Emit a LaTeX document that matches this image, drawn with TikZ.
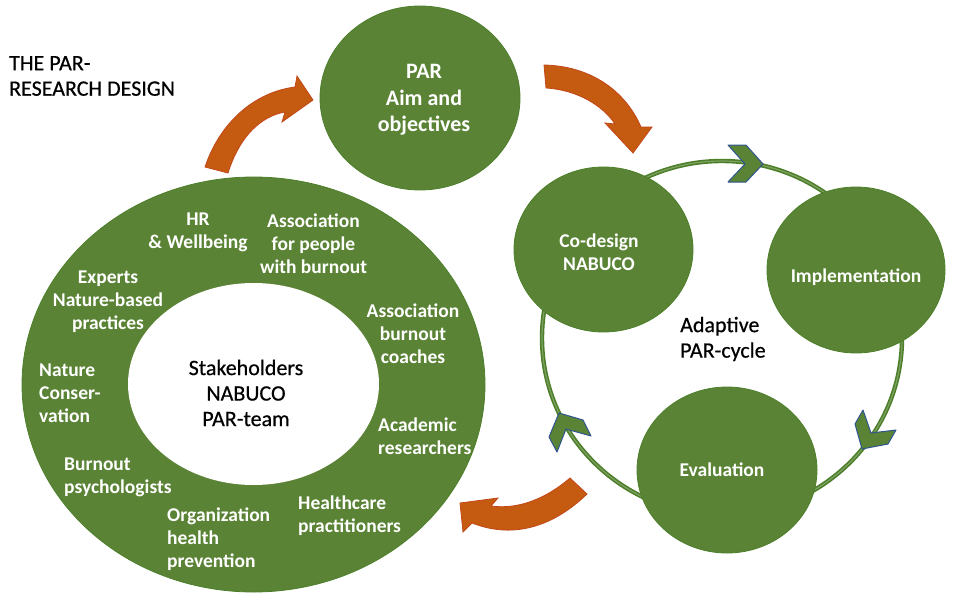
\documentclass[tikz,border=0pt]{standalone}
\usepackage{fontspec}
\usetikzlibrary{shapes.geometric}
\setmainfont{Carlito}
\newfontfamily\semibfont[FakeBold=0.5]{Carlito}
\definecolor{gfill}{HTML}{5A8335}
\definecolor{gline}{HTML}{4C7F2A}
\definecolor{gmid}{HTML}{7FA060}
\definecolor{orfill}{HTML}{C55A11}
\definecolor{orline}{HTML}{C2481A}
\definecolor{chline}{HTML}{2F5590}
\tikzset{
  blob/.style={ellipse,draw=gline,fill=gfill,line width=0.8pt,inner sep=0pt},
  bigarrow/.style={draw=orline,fill=orfill,line width=0.8pt,line join=miter},
  chev/.style={draw=chline,fill=gfill,line width=1pt,line join=round},
  lab/.style={text=white,font=\fontsize{19.5}{23}\selectfont\bfseries,align=center,inner sep=0pt},
  labbig/.style={text=white,font=\fontsize{22}{26.5}\selectfont\bfseries,align=center,inner sep=0pt},
  dark/.style={text=black,font=\semibfont\fontsize{22}{25.5}\selectfont,align=center,inner sep=0pt}
}
\begin{document}
\begin{tikzpicture}[x=1pt,y=-1pt]
\useasboundingbox (0,0) rectangle (957,602);
% big ring
\draw[gline,line width=4.4pt] (722,338) ellipse [x radius=180, y radius=177];
\draw[gmid,line width=1.2pt] (722,338) ellipse [x radius=180, y radius=177];
% circles
\node[blob,minimum width=200pt,minimum height=184pt] (par) at (420,98) {};
\node[blob,minimum width=179pt,minimum height=165pt] (codesign) at (603.5,249.5) {};
\node[blob,minimum width=178pt,minimum height=166pt] (impl) at (856,270) {};
\node[blob,minimum width=180pt,minimum height=166pt] (eval) at (727,470) {};
\node[blob,minimum width=463pt,minimum height=415pt] (outer) at (253.5,384.5) {};
\node[ellipse,fill=white,minimum width=251pt,minimum height=202pt,inner sep=0pt] (inner) at (253.5,384) {};
% orange arrows
\draw[bigarrow] (205,167) .. controls (220,122) and (255,92) .. (295,87) -- (297,76) -- (313,100) -- (282,122) -- (285,112) .. controls (262,116) and (240,135) .. (228,173) -- cycle;
\draw[bigarrow] (544,65) .. controls (590,66) and (625,90) .. (641,127) -- (652,127) -- (633,153) -- (605,123) -- (615,124) .. controls (603,106) and (578,90) .. (546,88) -- cycle;
\draw[bigarrow] (570,478) .. controls (548,497) and (520,510) .. (491,506) -- (498,498) -- (460,503) -- (463,532) -- (472,523) .. controls (515,540) and (555,525) .. (587,494) -- cycle;
% chevrons
\draw[chev] (728,145) -- (746,145) -- (763,164) -- (746,182) -- (728,182) -- (745,164) -- cycle;
\draw[chev] (863,410) -- (871,433) -- (896,430) -- (888,444) -- (862,449) -- (855,424) -- cycle;
\draw[chev] (559,413) -- (583,420) -- (591,436) -- (566,429) -- (557,452) -- (549,437) -- cycle;
% labels
\node[dark,align=left,anchor=west] (ttl) at (9,76) {THE PAR-\\RESEARCH DESIGN};
\node[labbig] (t1) at (424,100) {PAR\\Aim and\\objectives};
\node[lab] (t2) at (599,252) {Co-design\\NABUCO};
\node[lab] (t3) at (856,277) {Implementation};
\node[lab] (t4) at (722,470) {Evaluation};
\node[dark,align=left,anchor=west] (t5) at (680,339) {Adaptive\\PAR-cycle};
\node[dark] (t6) at (246,393) {Stakeholders\\NABUCO\\PAR-team};
\node[lab] (s1) at (198,232) {HR\\\& Wellbeing};
\node[lab] (s2) at (313.5,244) {Association\\for people\\with burnout};
\node[lab] (s3) at (413,334) {Association\\burnout\\coaches};
\node[lab,align=left,anchor=west] (s4) at (378,436) {Academic\\researchers};
\node[lab,align=left,anchor=west] (s5) at (298,516) {Healthcare\\practitioners};
\node[lab,align=left,anchor=west] (s6) at (167,539) {Organization\\health\\prevention};
\node[lab,align=left,anchor=west] (s7) at (64,477) {Burnout\\psychologists};
\node[lab,align=left,anchor=west] (s8) at (39,393) {Nature\\Conser-\\vation};
\node[lab] (s9) at (108,302) {Experts\\Nature-based\\practices};
\end{tikzpicture}
\end{document}
